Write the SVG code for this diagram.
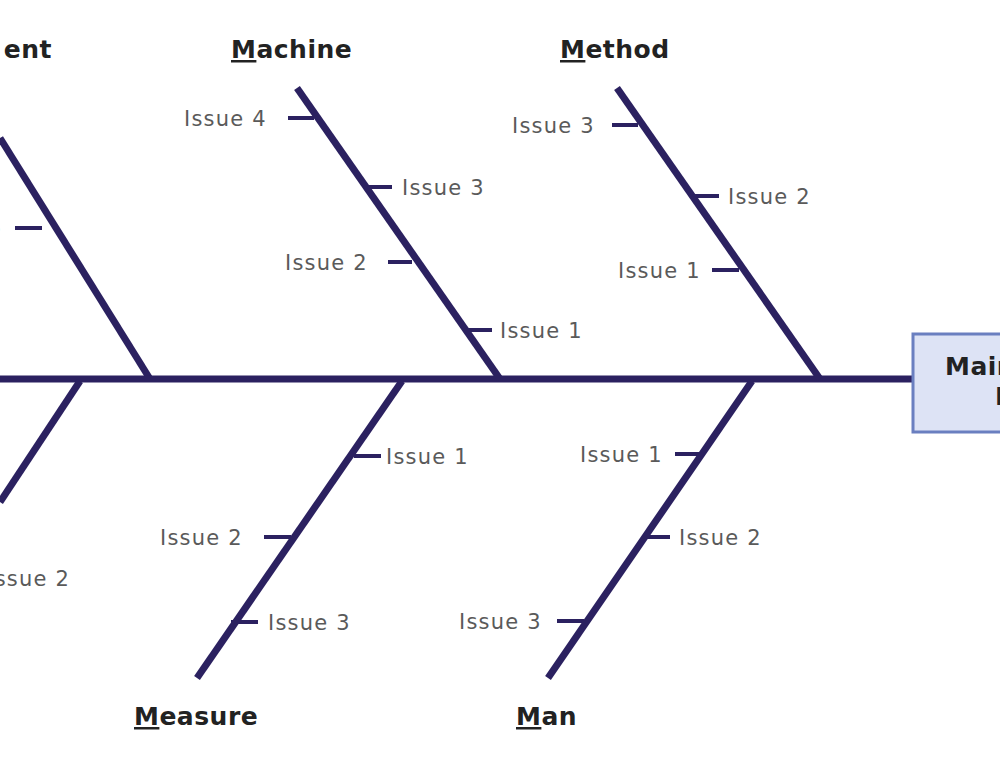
<svg xmlns="http://www.w3.org/2000/svg" width="1000" height="766" viewBox="0 0 1000 766">
<style>
.b{stroke:#2b2160;stroke-width:7;fill:none;stroke-linecap:butt}
.t{stroke:#2b2160;stroke-width:4}
.i{font-family:"DejaVu Sans","Liberation Sans",sans-serif;font-size:21px;fill:#5a5a5a;letter-spacing:1.2px}
.c{font-family:"DejaVu Sans","Liberation Sans",sans-serif;font-size:25px;font-weight:bold;fill:#222;letter-spacing:0.5px}
</style>
<rect width="1000" height="766" fill="#fff"/>
<g id="connectors">
<line class="b" x1="0" y1="138" x2="150" y2="379"/>
<line class="b" x1="0" y1="379" x2="915" y2="379"/>
<line class="b" x1="80" y1="381" x2="0" y2="502"/>
<line class="b" x1="297" y1="88" x2="500" y2="379"/>
<line class="b" x1="617" y1="88" x2="820" y2="379"/>
<line class="b" x1="402" y1="381" x2="197" y2="678"/>
<line class="b" x1="752" y1="381" x2="548" y2="678"/>
<line class="t" x1="15" y1="228" x2="42" y2="228"/>
<line class="t" x1="288" y1="118" x2="314" y2="118"/>
<line class="t" x1="364" y1="187" x2="392" y2="187"/>
<line class="t" x1="388" y1="262" x2="412" y2="262"/>
<line class="t" x1="465" y1="330" x2="492" y2="330"/>
<line class="t" x1="612" y1="125" x2="638" y2="125"/>
<line class="t" x1="694" y1="196" x2="719" y2="196"/>
<line class="t" x1="712" y1="270" x2="739" y2="270"/>
<line class="t" x1="354" y1="456" x2="381" y2="456"/>
<line class="t" x1="264" y1="537" x2="291" y2="537"/>
<line class="t" x1="231" y1="622" x2="258" y2="622"/>
<line class="t" x1="675" y1="454" x2="701" y2="454"/>
<line class="t" x1="644" y1="537" x2="670" y2="537"/>
<line class="t" x1="557" y1="621" x2="584" y2="621"/>
</g>
<g id="problem">
<rect x="913" y="334" width="100" height="98" fill="#dde3f5" stroke="#6a7fc0" stroke-width="3"/>
<text class="c" x="945" y="375" style="font-weight:600">Main</text>
<text class="c" x="995" y="405" style="font-weight:600">Problem</text>
</g>
<g id="environment"><text class="c" x="52" y="58" text-anchor="end">ent</text>
<text class="i" x="2" y="236" text-anchor="end">Issue</text>
<text class="i" x="70" y="586" text-anchor="end">ssue 2</text></g>
<g id="machine"><text class="c" x="231" y="58"><tspan text-decoration="underline">M</tspan>achine</text>
<text class="i" x="184" y="126">Issue 4</text>
<text class="i" x="402" y="195">Issue 3</text>
<text class="i" x="285" y="270">Issue 2</text>
<text class="i" x="500" y="338">Issue 1</text></g>
<g id="method"><text class="c" x="560" y="58"><tspan text-decoration="underline">M</tspan>ethod</text>
<text class="i" x="512" y="133">Issue 3</text>
<text class="i" x="728" y="204">Issue 2</text>
<text class="i" x="618" y="278">Issue 1</text></g>
<g id="measure"><text class="c" x="134" y="725"><tspan text-decoration="underline">M</tspan>easure</text>
<text class="i" x="386" y="464">Issue 1</text>
<text class="i" x="160" y="545">Issue 2</text>
<text class="i" x="268" y="630">Issue 3</text></g>
<g id="man"><text class="c" x="516" y="725"><tspan text-decoration="underline">M</tspan>an</text>
<text class="i" x="580" y="462">Issue 1</text>
<text class="i" x="679" y="545">Issue 2</text>
<text class="i" x="459" y="629">Issue 3</text></g>
</svg>
